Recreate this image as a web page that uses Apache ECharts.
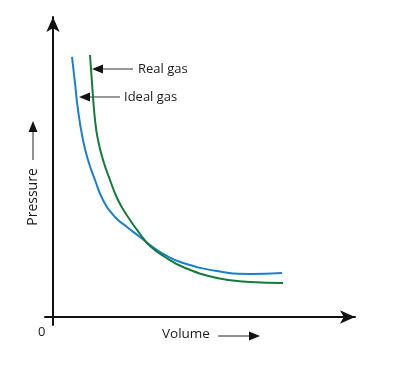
<!DOCTYPE html>
<html>
<head>
<meta charset="utf-8">
<script src="https://cdn.jsdelivr.net/npm/echarts@6/dist/echarts.min.js"></script>
<style>html,body{margin:0;padding:0;background:#fff}#c{width:398px;height:370px}</style>
</head>
<body>
<div id="c"></div>
<script>
// Volume / pressure samples (arbitrary units)
const idealVolume   = [0.629, 0.728, 0.828, 0.993, 1.159, 1.391, 1.656, 2.053, 2.450, 2.881, 3.212, 3.709, 4.305, 5.430, 6.523, 7.583];
const idealPressure = [8.667, 7.800, 6.900, 5.900, 5.233, 4.567, 3.900, 3.333, 3.000, 2.667, 2.400, 2.067, 1.800, 1.533, 1.433, 1.467];
const realVolume    = [1.225, 1.291, 1.391, 1.490, 1.656, 1.887, 2.152, 2.483, 2.881, 3.212, 3.709, 4.305, 5.430, 6.523, 7.616];
const realPressure  = [8.733, 7.800, 6.567, 5.900, 5.233, 4.567, 3.900, 3.333, 2.767, 2.367, 2.000, 1.667, 1.300, 1.167, 1.133];
const seriesNames = ['Ideal gas', 'Real gas'];
const axisTitles = ['Volume', 'Pressure'];
const originLabel = '0';

const zip = (a, b) => a.map((v, i) => [v, b[i]]);
const chart = echarts.init(document.getElementById('c'));
const font = '"Open Sans", sans-serif';
const ink = '#1a1a1a';

function arrowLeft(tipX, y, len) {
  return [
    {type: 'line', shape: {x1: tipX + 6, y1: y, x2: tipX + len, y2: y}, style: {stroke: '#333', lineWidth: 1}},
    {type: 'polygon', shape: {points: [[tipX, y], [tipX + 11, y - 4.5], [tipX + 11, y + 4.5]]}, style: {fill: '#111'}}
  ];
}

chart.setOption({
  animation: false,
  grid: {left: 45, right: 43, top: 17, bottom: 45},
  xAxis: {
    type: 'value', min: -0.265, max: 10,
    axisLine: {onZero: true, lineStyle: {color: '#111', width: 2}, symbol: ['none', 'arrow'], symbolSize: [10, 15]},
    axisTick: {show: false}, axisLabel: {show: false}, splitLine: {show: false}
  },
  yAxis: {
    type: 'value', min: -0.267, max: 10,
    axisLine: {onZero: true, lineStyle: {color: '#111', width: 2}, symbol: ['none', 'arrow'], symbolSize: [10, 15]},
    axisTick: {show: false}, axisLabel: {show: false}, splitLine: {show: false}
  },
  series: [
    {name: seriesNames[0], type: 'line', data: zip(idealVolume, idealPressure), smooth: 0.5,
     showSymbol: false, lineStyle: {color: '#1b7fcf', width: 2}},
    {name: seriesNames[1], type: 'line', data: zip(realVolume, realPressure), smooth: 0.5,
     showSymbol: false, lineStyle: {color: '#167a3c', width: 2}}
  ],
  graphic: [
    {type: 'text', x: 38, y: 332, style: {text: originLabel, font: '13px ' + font, fill: ink, verticalAlign: 'middle'}},
    {type: 'text', x: 162, y: 334, style: {text: axisTitles[0], font: '13.5px ' + font, fill: ink, verticalAlign: 'middle'}},
    {type: 'line', shape: {x1: 218, y1: 336, x2: 252, y2: 336}, style: {stroke: '#222', lineWidth: 1}},
    {type: 'polygon', shape: {points: [[260, 336], [249, 331.5], [249, 340.5]]}, style: {fill: '#111'}},
    {type: 'text', x: 33, y: 197, rotation: Math.PI / 2,
     style: {text: axisTitles[1], font: '14px ' + font, fill: ink, align: 'center', verticalAlign: 'middle'}},
    {type: 'line', shape: {x1: 33, y1: 160, x2: 33, y2: 130}, style: {stroke: '#222', lineWidth: 1}},
    {type: 'polygon', shape: {points: [[33, 121], [28.5, 132], [37.5, 132]]}, style: {fill: '#111'}},
    ...arrowLeft(92, 69, 41),
    {type: 'text', x: 138, y: 69, style: {text: seriesNames[1], font: '13px ' + font, fill: ink, verticalAlign: 'middle'}},
    ...arrowLeft(79, 97, 41),
    {type: 'text', x: 124, y: 97, style: {text: seriesNames[0], font: '13px ' + font, fill: ink, verticalAlign: 'middle'}}
  ]
});
</script>
</body>
</html>
